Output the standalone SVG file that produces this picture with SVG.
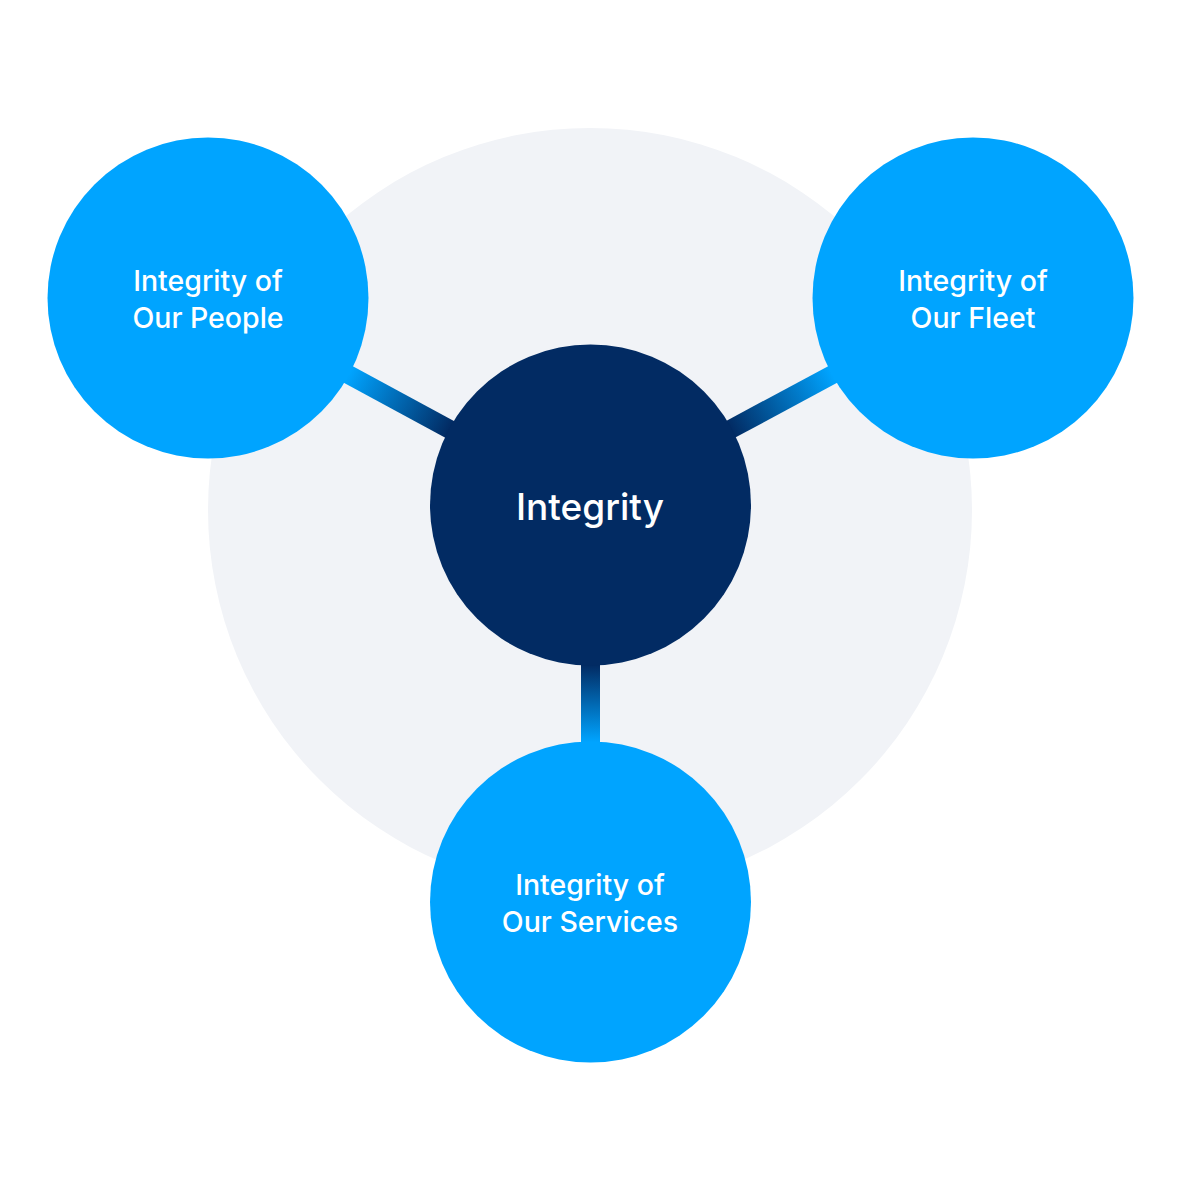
<svg xmlns="http://www.w3.org/2000/svg" width="1181" height="1181" viewBox="0 0 1181 1181">
<style>
.bg{fill:#f1f3f7}
.outer{fill:#00a4ff}
.core{fill:#022b63}
.lbl{font-family:Inter,"Noto Sans","Liberation Sans",sans-serif;font-weight:500;fill:#ffffff;text-anchor:middle}
.sm{font-size:28.5px}
.lg{font-size:37px}
</style>
<defs>
<linearGradient id="gL" gradientUnits="userSpaceOnUse" x1="349" y1="374" x2="449" y2="429">
<stop offset="0" stop-color="#00a4ff"/><stop offset="1" stop-color="#022b63"/>
</linearGradient>
<linearGradient id="gR" gradientUnits="userSpaceOnUse" x1="832" y1="374" x2="731" y2="429">
<stop offset="0" stop-color="#00a4ff"/><stop offset="1" stop-color="#022b63"/>
</linearGradient>
<linearGradient id="gB" gradientUnits="userSpaceOnUse" x1="590" y1="665" x2="590" y2="742">
<stop offset="0" stop-color="#022b63"/><stop offset="1" stop-color="#00a4ff"/>
</linearGradient>
</defs>
<circle class="bg" cx="590" cy="510" r="382"/>
<g id="connectors">
<line x1="340" y1="370" x2="460" y2="435" stroke="url(#gL)" stroke-width="19"/>
<line x1="841" y1="370" x2="720" y2="435" stroke="url(#gR)" stroke-width="19"/>
<line x1="590.5" y1="655" x2="590.5" y2="752" stroke="url(#gB)" stroke-width="19"/>
</g>
<g id="node-people">
<circle class="outer" cx="208" cy="298" r="160.5"/>
<text class="lbl sm" x="208" y="291">Integrity of</text>
<text class="lbl sm" x="208" y="328">Our People</text>
</g>
<g id="node-fleet">
<circle class="outer" cx="973" cy="298" r="160.5"/>
<text class="lbl sm" x="973" y="291">Integrity of</text>
<text class="lbl sm" x="973" y="328">Our Fleet</text>
</g>
<g id="node-core">
<circle class="core" cx="590.5" cy="505" r="160.5"/>
<text class="lbl lg" x="590" y="520">Integrity</text>
</g>
<g id="node-services">
<circle class="outer" cx="590.5" cy="902" r="160.5"/>
<text class="lbl sm" x="590" y="895">Integrity of</text>
<text class="lbl sm" x="590" y="932">Our Services</text>
</g>
</svg>
